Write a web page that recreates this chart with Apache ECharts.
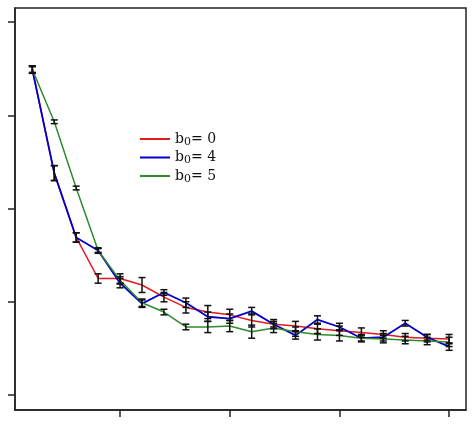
<!DOCTYPE html>
<html><head><meta charset="utf-8">
<script src="https://cdn.jsdelivr.net/npm/echarts@6/dist/echarts.min.js"></script>
<style>html,body{margin:0;padding:0;background:#fff}#c{width:474px;height:426px}</style>
</head><body><div id="c"></div>
<script>
const xs = [1,2,3,4,5,6,7,8,9,10,11,12,13,14,15,16,17,18,19,20];
const red   = [3.49,2.38,1.69,1.25,1.25,1.18,1.05,0.94,0.89,0.86,0.80,0.76,0.74,0.71,0.69,0.67,0.65,0.62,0.61,0.60];
const blue  = [3.49,2.38,1.69,1.55,1.20,0.98,1.10,0.99,0.84,0.82,0.90,0.76,0.64,0.81,0.73,0.61,0.62,0.77,0.62,0.52];
const green = [3.49,2.93,2.22,1.55,1.23,0.99,0.89,0.73,0.73,0.74,0.68,0.72,0.68,0.65,0.64,0.61,0.60,0.59,0.58,0.57];
const redErr   = [0.04,0.08,0.05,0.05,0.05,0.08,0.05,0.06,0.07,0.06,0.07,0.05,0.05,0.05,0.05,0.05,0.04,0.04,0.04,0.05];
const blueErr  = [0.04,0.08,0.05,0.03,0.05,0.04,0.03,0.05,0.05,0.05,0.04,0.03,0.04,0.04,0.04,0.03,0.04,0.03,0.03,0.04];
const greenErr = [0.03,0.02,0.02,0.02,0.04,0.04,0.03,0.03,0.06,0.06,0.07,0.05,0.05,0.06,0.06,0.04,0.04,0.04,0.04,0.05];
const xTicks = [5,10,15,20];
const yTicks = [0,1,2,3,4];
const names = ['b0= 0','b0= 4','b0= 5'];
const colors = ['#e31a1c','#0000cc','#2e8b2e'];

function errSeries(vals, errs){
  return {type:'custom', silent:true, z:5,
    data: xs.map((x,i)=>[x, vals[i]-errs[i], vals[i]+errs[i]]),
    renderItem:(p,api)=>{
      const a=api.coord([api.value(0),api.value(1)]), b=api.coord([api.value(0),api.value(2)]);
      const st={stroke:'#111',lineWidth:1.5};
      return {type:'group',children:[
        {type:'line',shape:{x1:a[0],y1:a[1],x2:b[0],y2:b[1]},style:st},
        {type:'line',shape:{x1:a[0]-3.5,y1:a[1],x2:a[0]+3.5,y2:a[1]},style:st},
        {type:'line',shape:{x1:b[0]-3.5,y1:b[1],x2:b[0]+3.5,y2:b[1]},style:st}]};
    }};
}
const serieses=[red,blue,green];
const lines = serieses.map((v,k)=>({name:names[k],type:'line',showSymbol:false,z:3,
  data:xs.map((x,i)=>[x,v[i]]),lineStyle:{color:colors[k],width:k===1?1.8:1.5},itemStyle:{color:colors[k]}}));
const ch = echarts.init(document.getElementById('c'));
ch.setOption({
  animation:false,
  grid:{left:15,top:8,right:8,bottom:16,show:true,borderColor:'#222',borderWidth:1.5},
  legend:{left:135,top:127,orient:'vertical',itemGap:3,itemWidth:30,itemHeight:2,icon:'rect',
    data:names,
    formatter:n=>'{a|b}{s|0}{a|'+n.slice(2)+'}',
    textStyle:{fontFamily:'DejaVu Serif',fontSize:14,color:'#111',
      rich:{a:{fontFamily:'DejaVu Serif',fontSize:14,color:'#111'},s:{fontFamily:'DejaVu Serif',fontSize:11,color:'#111',verticalAlign:'bottom',padding:[6,0,0,0]}}}},
  xAxis:{type:'value',min:0.21,max:20.77,
    axisLine:{show:true,onZero:false,lineStyle:{color:'#222',width:1.5}},
    axisTick:{show:true,length:7,customValues:xTicks,lineStyle:{color:'#222',width:1.5}},
    axisLabel:{show:false},splitLine:{show:false}},
  yAxis:{type:'value',min:-0.16,max:4.15,
    axisLine:{show:true,onZero:false,lineStyle:{color:'#222',width:1.5}},
    axisTick:{show:true,length:7,customValues:yTicks,lineStyle:{color:'#222',width:1.5}},
    axisLabel:{show:false},splitLine:{show:false}},
  series:[...lines, errSeries(red,redErr), errSeries(blue,blueErr), errSeries(green,greenErr)]
});
</script></body></html>
